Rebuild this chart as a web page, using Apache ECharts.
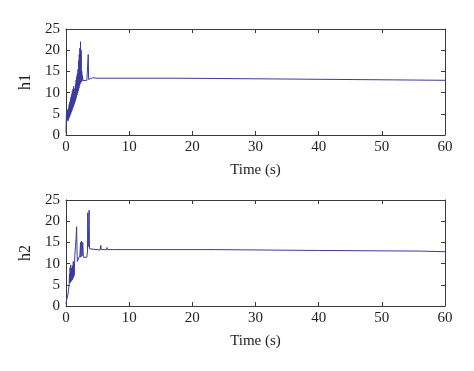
<!DOCTYPE html>
<html>
<head>
<meta charset="utf-8">
<script src="https://cdn.jsdelivr.net/npm/echarts@6/dist/echarts.min.js"></script>
<style>html,body{margin:0;padding:0;background:#fff;}#c{width:474px;height:371px;}</style>
</head>
<body>
<div id="c"></div>
<script>
var xTicks = [0, 10, 20, 30, 40, 50, 60];
var yTicks = [0, 5, 10, 15, 20, 25];
var xName = 'Time (s)';
var yNames = ['h1', 'h2'];

var h1 = [
  [0,0.5],[0.05,4.5],[0.1,5.2],[0.15,3.2],[0.2,5.6],[0.25,3.6],[0.3,6.0],[0.35,3.4],[0.4,6.4],[0.45,3.9],
  [0.5,7.2],[0.55,4.2],[0.6,7.8],[0.65,4.6],[0.7,8.4],[0.75,5.0],[0.8,9.0],[0.85,5.4],[0.9,9.6],[0.95,5.8],
  [1.0,10.3],[1.05,6.2],[1.1,10.8],[1.15,6.6],[1.2,11.5],[1.25,7.0],[1.3,10.2],[1.35,7.4],[1.4,11.0],[1.45,7.9],
  [1.5,12.0],[1.55,8.4],[1.6,13.0],[1.65,8.9],[1.7,13.8],[1.75,9.4],[1.8,14.5],[1.85,9.9],[1.9,15.5],[1.95,10.4],
  [2.0,17.5],[2.05,11.0],[2.1,19.0],[2.15,11.6],[2.2,20.5],[2.25,12.1],[2.3,22.0],[2.35,12.4],[2.4,20.0],[2.45,12.6],
  [2.5,15.0],[2.55,12.8],[2.6,14.0],[2.7,12.8],[3.0,12.8],[3.3,12.9],[3.45,13.0],[3.52,19.0],[3.58,13.1],[3.8,13.3],
  [4.2,13.5],[4.5,13.6],[4.8,13.4],[10,13.4],[17,13.4],[17.3,13.2],[35,13.2],[35.3,13.0],[52,13.0],[52.3,12.9],[60,12.9]
];

var h2 = [
  [0,0.5],[0.1,1.5],[0.2,1.8],[0.3,2.6],[0.4,3.8],[0.5,5.0],[0.55,7.5],[0.6,5.4],[0.65,9.0],[0.7,5.6],
  [0.75,9.7],[0.8,5.8],[0.85,9.0],[0.9,6.0],[0.95,8.5],[1.0,6.2],[1.05,9.5],[1.1,6.5],[1.15,10.5],[1.2,6.8],
  [1.25,10.0],[1.3,7.2],[1.4,12.0],[1.5,14.0],[1.6,16.0],[1.68,18.7],[1.75,13.0],[1.8,10.5],[2.1,10.5],[2.2,12.0],
  [2.3,15.0],[2.35,11.5],[2.45,15.3],[2.55,11.8],[2.65,15.0],[2.75,11.5],[3.3,11.5],[3.4,13.0],[3.45,22.0],[3.52,14.0],
  [3.6,18.5],[3.66,22.6],[3.72,13.5],[3.8,13.2],[5.4,13.2],[5.5,14.3],[5.6,13.3],[6.4,13.3],[6.5,13.8],[6.6,13.3],
  [7.5,13.3],[7.6,13.6],[7.7,13.3],[23.5,13.3],[23.8,13.1],[40,13.1],[40.3,12.95],[56,12.95],[56.3,12.8],[60,12.8]
];

var chart = echarts.init(document.getElementById('c'), null, {renderer: 'canvas'});
var FONT = '"Liberation Serif", "DejaVu Serif", serif';
var AX = '#3a3a3a';
var tops = [29, 200];
var grids = [], xAxes = [], yAxes = [], series = [];
[h1, h2].forEach(function (d, i) {
  grids.push({left: 66, right: 29, top: tops[i], height: 106, show: false});
  xAxes.push({
    type: 'value', gridIndex: i, position: 'bottom', min: xTicks[0], max: xTicks[xTicks.length - 1], interval: 10,
    name: xName, nameLocation: 'middle', nameGap: 28,
    nameTextStyle: {fontFamily: FONT, fontSize: 15, color: '#222'},
    axisLine: {show: true, onZero: false, lineStyle: {color: AX, width: 1}},
    axisTick: {show: true, inside: true, length: 4, lineStyle: {color: AX}},
    axisLabel: {fontFamily: FONT, fontSize: 15, color: '#222', margin: 5},
    splitLine: {show: false}
  });
  xAxes.push({
    type: 'value', gridIndex: i, position: 'top', min: xTicks[0], max: xTicks[xTicks.length - 1], interval: 10,
    axisLine: {show: true, onZero: false, lineStyle: {color: AX, width: 1}},
    axisTick: {show: true, inside: true, length: 4, lineStyle: {color: AX}},
    axisLabel: {show: false}, splitLine: {show: false}
  });
  yAxes.push({
    type: 'value', gridIndex: i, position: 'left', min: yTicks[0], max: yTicks[yTicks.length - 1], interval: 5,
    name: yNames[i], nameLocation: 'middle', nameGap: 22,
    nameTextStyle: {fontFamily: FONT, fontSize: 16, color: '#222'},
    axisLine: {show: true, onZero: false, lineStyle: {color: AX, width: 1}},
    axisTick: {show: true, inside: true, length: 4, lineStyle: {color: AX}},
    axisLabel: {fontFamily: FONT, fontSize: 15, color: '#222', margin: 6},
    splitLine: {show: false}
  });
  yAxes.push({
    type: 'value', gridIndex: i, position: 'right', min: yTicks[0], max: yTicks[yTicks.length - 1], interval: 5,
    axisLine: {show: true, onZero: false, lineStyle: {color: AX, width: 1}},
    axisTick: {show: true, inside: true, length: 4, lineStyle: {color: AX}},
    axisLabel: {show: false}, splitLine: {show: false}
  });
  series.push({
    type: 'line', xAxisIndex: i * 2, yAxisIndex: i * 2, data: d, showSymbol: false, symbol: 'none',
    lineStyle: {color: '#3b3b9e', width: 1}, animation: false
  });
});
chart.setOption({
  animation: false,
  backgroundColor: '#ffffff',
  grid: grids, xAxis: xAxes, yAxis: yAxes, series: series
});
</script>
</body>
</html>
